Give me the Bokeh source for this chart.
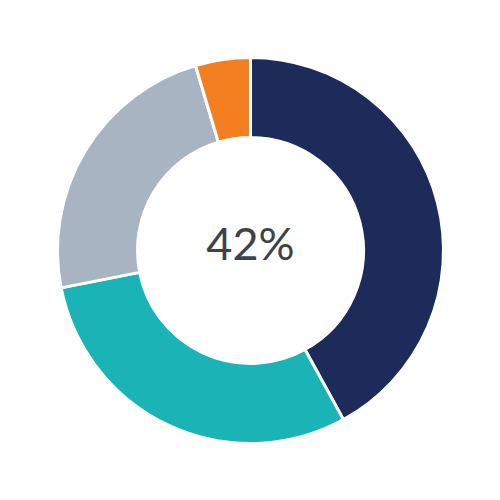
import math
from bokeh.plotting import figure
from bokeh.models import ColumnDataSource
from bokeh.core.properties import value
from bokeh.embed import file_html
from bokeh.resources import INLINE

categories = ["Navy", "Teal", "Gray", "Orange"]
shares = [42.0, 29.9, 23.5, 4.6]
colors = ["#1c2b5a", "#1ab4b7", "#a9b4c2", "#f37f20"]
center_label = "42%"

total = sum(shares)
starts, ends = [], []
acc = 0.0
for s in shares:
    a0 = math.pi / 2 - (acc + s) / total * 2 * math.pi
    a1 = math.pi / 2 - acc / total * 2 * math.pi
    starts.append(a0)
    ends.append(a1)
    acc += s

src = ColumnDataSource(dict(cat=categories, val=shares, color=colors, start=starts, end=ends))

W = 484
p = figure(width=W, height=W, x_range=(-250, 234), y_range=(-234, 250),
           output_backend="svg", toolbar_location=None, min_border=0)
p.axis.visible = False
p.grid.visible = False
p.outline_line_color = None
p.background_fill_color = "white"

p.annular_wedge(x=0, y=0, inner_radius=113, outer_radius=193,
                start_angle="start", end_angle="end", color="color",
                line_color="white", line_width=3, source=src)

p.text(x=[0], y=[8], text=[center_label], text_align="center", text_baseline="middle",
       text_font=value("Lato"), text_font_size="45px", text_color="#3d4249")

open("out.html", "w").write(file_html(p, INLINE))
